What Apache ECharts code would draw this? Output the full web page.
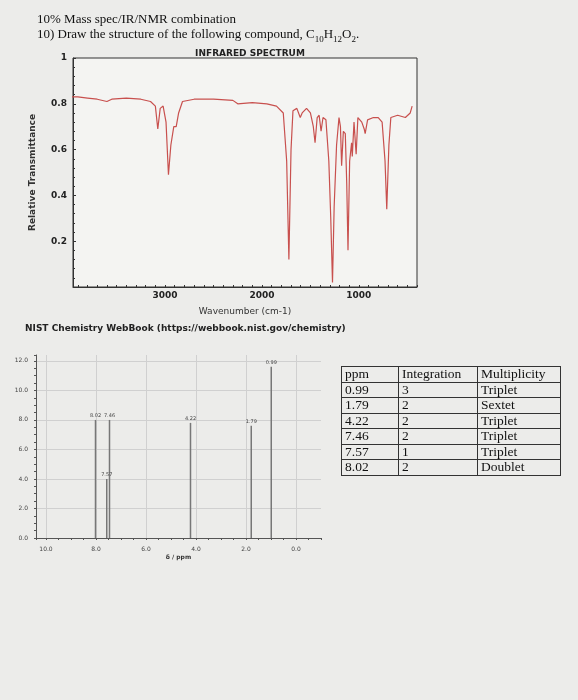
<!DOCTYPE html>
<html><head><meta charset="utf-8">
<script src="https://cdn.jsdelivr.net/npm/echarts@6/dist/echarts.min.js"></script>
<style>
body{margin:0;background:#ececea;}
#c{position:absolute;left:0;top:0;width:578px;height:700px;}
#hd{position:absolute;left:37px;top:11px;font-family:"Liberation Serif",serif;font-size:13px;line-height:15px;color:#111;}
table{position:absolute;left:341px;top:366px;border-collapse:collapse;font-family:"Liberation Serif",serif;font-size:13.5px;color:#111;}
td{border:1px solid #333;padding:0 3px;line-height:14.5px;}
td:nth-child(1){width:50px;} td:nth-child(2){width:72px;} td:nth-child(3){width:76px;}
</style></head><body>
<div id="c"></div>
<div id="hd">10% Mass spec/IR/NMR combination<br>10) Draw the structure of the following compound, C<sub style="font-size:9px">10</sub>H<sub style="font-size:9px">12</sub>O<sub style="font-size:9px">2</sub>.</div>
<table id="t"></table>
<script>
// IR spectrum: [wavenumber, transmittance]
var irPoints = [
 [3990,0.83],[3900,0.83],[3800,0.825],[3700,0.82],[3600,0.81],[3550,0.82],[3400,0.825],[3250,0.82],[3150,0.81],
 [3100,0.79],[3075,0.69],[3050,0.78],[3020,0.79],[2990,0.72],[2965,0.49],[2940,0.62],[2910,0.70],[2885,0.70],
 [2860,0.76],[2820,0.81],[2700,0.82],[2500,0.82],[2300,0.815],[2250,0.80],[2100,0.805],[1950,0.80],[1850,0.79],
 [1780,0.76],[1745,0.55],[1722,0.12],[1700,0.60],[1680,0.77],[1640,0.78],[1605,0.74],[1585,0.76],[1540,0.78],
 [1500,0.76],[1470,0.70],[1452,0.63],[1430,0.74],[1410,0.75],[1390,0.68],[1370,0.74],[1340,0.73],[1310,0.55],
 [1290,0.30],[1272,0.02],[1255,0.35],[1230,0.62],[1205,0.74],[1190,0.70],[1178,0.53],[1160,0.68],[1140,0.67],
 [1125,0.45],[1112,0.16],[1095,0.55],[1075,0.63],[1068,0.57],[1050,0.72],[1028,0.58],[1010,0.74],[990,0.74],
 [970,0.72],[945,0.69],[935,0.67],[910,0.73],[850,0.74],[800,0.74],[760,0.72],[730,0.55],[712,0.34],[690,0.62],
 [670,0.74],[600,0.75],[520,0.74],[470,0.76],[450,0.79]
];
// 1H NMR sticks
var nmrShift = [8.02, 7.57, 7.46, 4.22, 1.79, 0.99];
var nmrHeight = [8.0, 4.0, 8.0, 7.8, 7.6, 11.6];
var nmrLabel = ['8.02', '7.57', '7.46', '4.22', '1.79', '0.99'];
var nmrGridPpm = [0, 2, 4, 6, 8, 10];
// table
var tblPpm = ['0.99','1.79','4.22','7.46','7.57','8.02'];
var tblInt = ['3','2','2','2','1','2'];
var tblMult = ['Triplet','Sextet','Triplet','Triplet','Triplet','Doublet'];

var html = '<tr><td>ppm</td><td>Integration</td><td>Multiplicity</td></tr>';
for (var i = 0; i < tblPpm.length; i++) {
  html += '<tr><td>' + tblPpm[i] + '</td><td>' + tblInt[i] + '</td><td>' + tblMult[i] + '</td></tr>';
}
document.getElementById('t').innerHTML = html;

var sans = '"DejaVu Sans", sans-serif';
var chart = echarts.init(document.getElementById('c'));
chart.setOption({
  animation: false,
  textStyle: {fontFamily: sans},
  title: [
    {text: 'INFRARED SPECTRUM', left: 245, top: 44, textAlign: 'center',
     textStyle: {fontSize: 9, fontWeight: 'bold', color: '#222'}},
    {text: 'NIST Chemistry WebBook (https://webbook.nist.gov/chemistry)', left: 20, top: 319,
     textStyle: {fontSize: 9, fontWeight: 'bold', color: '#222'}}
  ],
  grid: [
    {left: 73, right: 161, top: 58, height: 229, backgroundColor: '#f4f4f2', show: true, borderColor: '#333'},
    {left: 36, right: 257, top: 355, height: 183}
  ],
  xAxis: [
    {gridIndex: 0, type: 'value', inverse: true, min: 400, max: 3950, interval: 100,
     name: 'Wavenumber (cm-1)', nameLocation: 'middle', nameGap: 20,
     nameTextStyle: {fontSize: 9, color: '#333'},
     axisLabel: {fontSize: 9, color: '#222', fontWeight: 'bold', margin: 4, showMaxLabel: false,
                 formatter: function (v) { return v % 1000 === 0 ? v : ''; }},
     axisTick: {inside: true, length: 2}, splitLine: {show: false},
     axisLine: {lineStyle: {color: '#333'}}},
    {gridIndex: 1, type: 'value', inverse: true, min: -1, max: 10.4, interval: 1,
     name: 'δ / ppm', nameLocation: 'middle', nameGap: 16,
     nameTextStyle: {fontSize: 6, color: '#333', fontWeight: 'bold'},
     axisLabel: {fontSize: 6, color: '#444', showMaxLabel: false,
                 formatter: function (v) { return v >= 0 && Math.round(v) % 2 === 0 ? v.toFixed(1) : ''; }},
     axisTick: {length: 2}, minorTick: {show: true, splitNumber: 2, length: 2},
     splitLine: {show: false},
     axisLine: {lineStyle: {color: '#555'}}}
  ],
  yAxis: [
    {gridIndex: 0, type: 'value', min: 0, max: 1, interval: 0.2,
     name: 'Relative Transmittance', nameLocation: 'middle', nameGap: 36,
     nameTextStyle: {fontSize: 9, color: '#333', fontWeight: 'bold'},
     axisLabel: {fontSize: 9, color: '#222', fontWeight: 'bold', margin: 6, formatter: function (v) { return v === 0 ? '' : (v === 1 ? '1' : v.toFixed(1)); }},
     axisTick: {show: true, inside: true, length: 3}, minorTick: {show: true, length: 2},
     splitLine: {show: false}, axisLine: {show: true, onZero: false, lineStyle: {color: '#333'}}},
    {gridIndex: 1, type: 'value', min: 0, max: 12.4, interval: 2,
     axisLabel: {fontSize: 6, color: '#444', showMaxLabel: false, formatter: function (v) { return v.toFixed(1); }},
     axisTick: {show: true, length: 2}, minorTick: {show: true, splitNumber: 4, length: 2},
     splitLine: {show: true, showMaxLine: false, lineStyle: {color: '#d0d0d0'}},
     axisLine: {show: true, onZero: false, lineStyle: {color: '#555'}}}
  ],
  series: [
    {type: 'line', xAxisIndex: 0, yAxisIndex: 0, data: irPoints, showSymbol: false,
     lineStyle: {color: '#c8504e', width: 1.2}},
    {type: 'bar', xAxisIndex: 1, yAxisIndex: 1, barWidth: 1.5,
     data: nmrShift.map(function (s, i) { return [s, nmrHeight[i]]; }),
     itemStyle: {color: '#777'},
     label: {show: true, position: 'top', fontSize: 5, color: '#444', distance: 2,
             formatter: function (p) { return nmrLabel[p.dataIndex]; }},
     markLine: {silent: true, symbol: 'none', label: {show: false}, z: 0,
                lineStyle: {color: '#d0d0d0', type: 'solid', width: 1},
                data: nmrGridPpm.map(function (v) { return {xAxis: v}; })}}
  ]
});
</script>
</body></html>
